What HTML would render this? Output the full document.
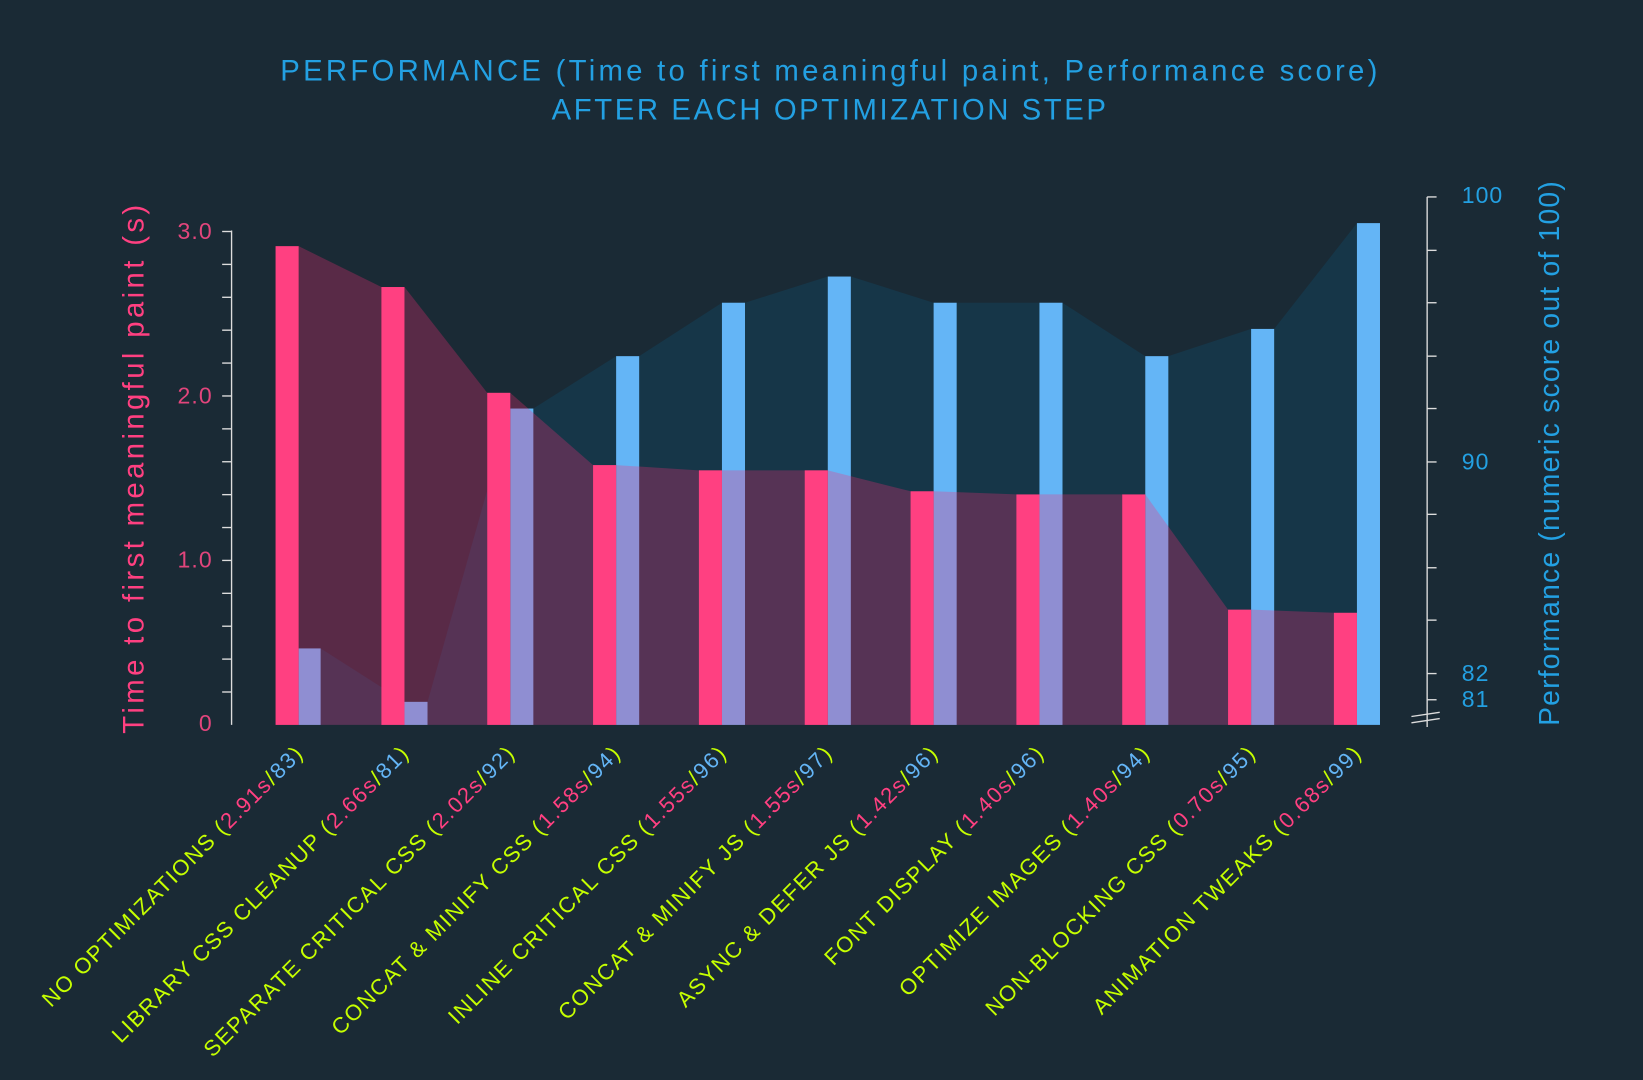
<!DOCTYPE html>
<html><head><meta charset="utf-8"><style>
html,body{margin:0;padding:0;background:#1a2a35;}
svg{display:block;font-family:"Liberation Sans",sans-serif;}
</style></head><body>
<svg width="1643" height="1080" viewBox="0 0 1568 1031" preserveAspectRatio="none" xmlns="http://www.w3.org/2000/svg">
<rect width="1568" height="1031" fill="#1a2a35"/>
<text x="791" y="77" text-anchor="middle" font-size="28" fill="#23a0e2" textLength="1047" lengthAdjust="spacing">PERFORMANCE (Time to first meaningful paint, Performance score)</text>
<text x="791" y="114" text-anchor="middle" font-size="28" fill="#23a0e2" textLength="529" lengthAdjust="spacing">AFTER EACH OPTIMIZATION STEP</text>

<polygon fill="#163648" points="285,692 285,619 306,619 386,670 408,670 487,390 509,390 588,340 610,340 689,289 711,289 790,264 812,264 891,289 913,289 992,289 1014,289 1093,340 1115,340 1194,314 1216,314 1295,213 1317,213 1317,692"/>
<g fill="#64b5f6">
<rect x="285" y="619" width="21" height="73"/>
<rect x="386" y="670" width="22" height="22"/>
<rect x="487" y="390" width="22" height="302"/>
<rect x="588" y="340" width="22" height="352"/>
<rect x="689" y="289" width="22" height="403"/>
<rect x="790" y="264" width="22" height="428"/>
<rect x="891" y="289" width="22" height="403"/>
<rect x="992" y="289" width="22" height="403"/>
<rect x="1093" y="340" width="22" height="352"/>
<rect x="1194" y="314" width="22" height="378"/>
<rect x="1295" y="213" width="22" height="479"/>
</g>
<polygon fill="#ff2a78" fill-opacity="0.28" points="263,692 263,235 285,235 364,274 386,274 465,375 487,375 566,444 588,444 667,449 689,449 768,449 790,449 869,469 891,469 970,472 992,472 1071,472 1093,472 1172,582 1194,582 1273,585 1295,585 1295,692"/>
<g fill="#ff4081">
<rect x="263" y="235" width="22" height="457"/>
<rect x="364" y="274" width="22" height="418"/>
<rect x="465" y="375" width="22" height="317"/>
<rect x="566" y="444" width="22" height="248"/>
<rect x="667" y="449" width="22" height="243"/>
<rect x="768" y="449" width="22" height="243"/>
<rect x="869" y="469" width="22" height="223"/>
<rect x="970" y="472" width="22" height="220"/>
<rect x="1071" y="472" width="22" height="220"/>
<rect x="1172" y="582" width="22" height="110"/>
<rect x="1273" y="585" width="22" height="107"/>
</g>

<g stroke="#dddddd" stroke-width="1.3">
<line x1="221" y1="220" x2="221" y2="692"/>
<line x1="212" y1="221" x2="221" y2="221"/><line x1="212" y1="252.4" x2="221" y2="252.4"/><line x1="212" y1="283.8" x2="221" y2="283.8"/><line x1="212" y1="315.2" x2="221" y2="315.2"/><line x1="212" y1="346.6" x2="221" y2="346.6"/><line x1="212" y1="378" x2="221" y2="378"/><line x1="212" y1="409.4" x2="221" y2="409.4"/><line x1="212" y1="440.8" x2="221" y2="440.8"/><line x1="212" y1="472.2" x2="221" y2="472.2"/><line x1="212" y1="503.6" x2="221" y2="503.6"/><line x1="212" y1="535" x2="221" y2="535"/><line x1="212" y1="566.4" x2="221" y2="566.4"/><line x1="212" y1="597.8" x2="221" y2="597.8"/><line x1="212" y1="629.2" x2="221" y2="629.2"/><line x1="212" y1="660.6" x2="221" y2="660.6"/>
</g>
<g fill="#e2457c" font-size="22" text-anchor="end" letter-spacing="1">
<text x="203" y="228">3.0</text><text x="203" y="385">2.0</text><text x="203" y="542">1.0</text><text x="203" y="698">0</text>
</g>
<text transform="translate(137,448) rotate(-90)" text-anchor="middle" font-size="28" fill="#ff4081" textLength="505" lengthAdjust="spacing">Time to first meaningful paint (s)</text>

<g stroke="#dddddd" stroke-width="1.3">
<line x1="1362" y1="188" x2="1362" y2="694"/>
<line x1="1362" y1="188" x2="1371" y2="188"/><line x1="1362" y1="239" x2="1371" y2="239"/><line x1="1362" y1="289" x2="1371" y2="289"/><line x1="1362" y1="340" x2="1371" y2="340"/><line x1="1362" y1="390" x2="1371" y2="390"/><line x1="1362" y1="441" x2="1371" y2="441"/><line x1="1362" y1="491" x2="1371" y2="491"/><line x1="1362" y1="542" x2="1371" y2="542"/><line x1="1362" y1="592" x2="1371" y2="592"/><line x1="1362" y1="643" x2="1371" y2="643"/><line x1="1362" y1="668" x2="1371" y2="668"/>
<line x1="1347" y1="684" x2="1374" y2="680"/><line x1="1347" y1="690" x2="1374" y2="686"/>
</g>
<g fill="#23a0e2" font-size="22" letter-spacing="1">
<text x="1395" y="194">100</text><text x="1395" y="448">90</text><text x="1395" y="650">82</text><text x="1395" y="675">81</text>
</g>
<text transform="translate(1488,433) rotate(-90)" text-anchor="middle" font-size="27" fill="#23a0e2" textLength="520" lengthAdjust="spacing">Performance (numeric score out of 100)</text>

<g font-size="21" fill="#c6ff00" text-anchor="end" letter-spacing="1.6">
<text transform="translate(291,720) rotate(-45)">NO OPTIMIZATIONS (<tspan fill="#ff4081">2.91s</tspan>/<tspan fill="#64b5f6">83</tspan>)</text>
<text transform="translate(392,720) rotate(-45)">LIBRARY CSS CLEANUP (<tspan fill="#ff4081">2.66s</tspan>/<tspan fill="#64b5f6">81</tspan>)</text>
<text transform="translate(493,720) rotate(-45)">SEPARATE CRITICAL CSS (<tspan fill="#ff4081">2.02s</tspan>/<tspan fill="#64b5f6">92</tspan>)</text>
<text transform="translate(594,720) rotate(-45)">CONCAT &amp; MINIFY CSS (<tspan fill="#ff4081">1.58s</tspan>/<tspan fill="#64b5f6">94</tspan>)</text>
<text transform="translate(695,720) rotate(-45)">INLINE CRITICAL CSS (<tspan fill="#ff4081">1.55s</tspan>/<tspan fill="#64b5f6">96</tspan>)</text>
<text transform="translate(796,720) rotate(-45)">CONCAT &amp; MINIFY JS (<tspan fill="#ff4081">1.55s</tspan>/<tspan fill="#64b5f6">97</tspan>)</text>
<text transform="translate(897,720) rotate(-45)">ASYNC &amp; DEFER JS (<tspan fill="#ff4081">1.42s</tspan>/<tspan fill="#64b5f6">96</tspan>)</text>
<text transform="translate(998,720) rotate(-45)">FONT DISPLAY (<tspan fill="#ff4081">1.40s</tspan>/<tspan fill="#64b5f6">96</tspan>)</text>
<text transform="translate(1099,720) rotate(-45)">OPTIMIZE IMAGES (<tspan fill="#ff4081">1.40s</tspan>/<tspan fill="#64b5f6">94</tspan>)</text>
<text transform="translate(1200,720) rotate(-45)">NON-BLOCKING CSS (<tspan fill="#ff4081">0.70s</tspan>/<tspan fill="#64b5f6">95</tspan>)</text>
<text transform="translate(1301,720) rotate(-45)">ANIMATION TWEAKS (<tspan fill="#ff4081">0.68s</tspan>/<tspan fill="#64b5f6">99</tspan>)</text>
</g>
</svg>
</body></html>
